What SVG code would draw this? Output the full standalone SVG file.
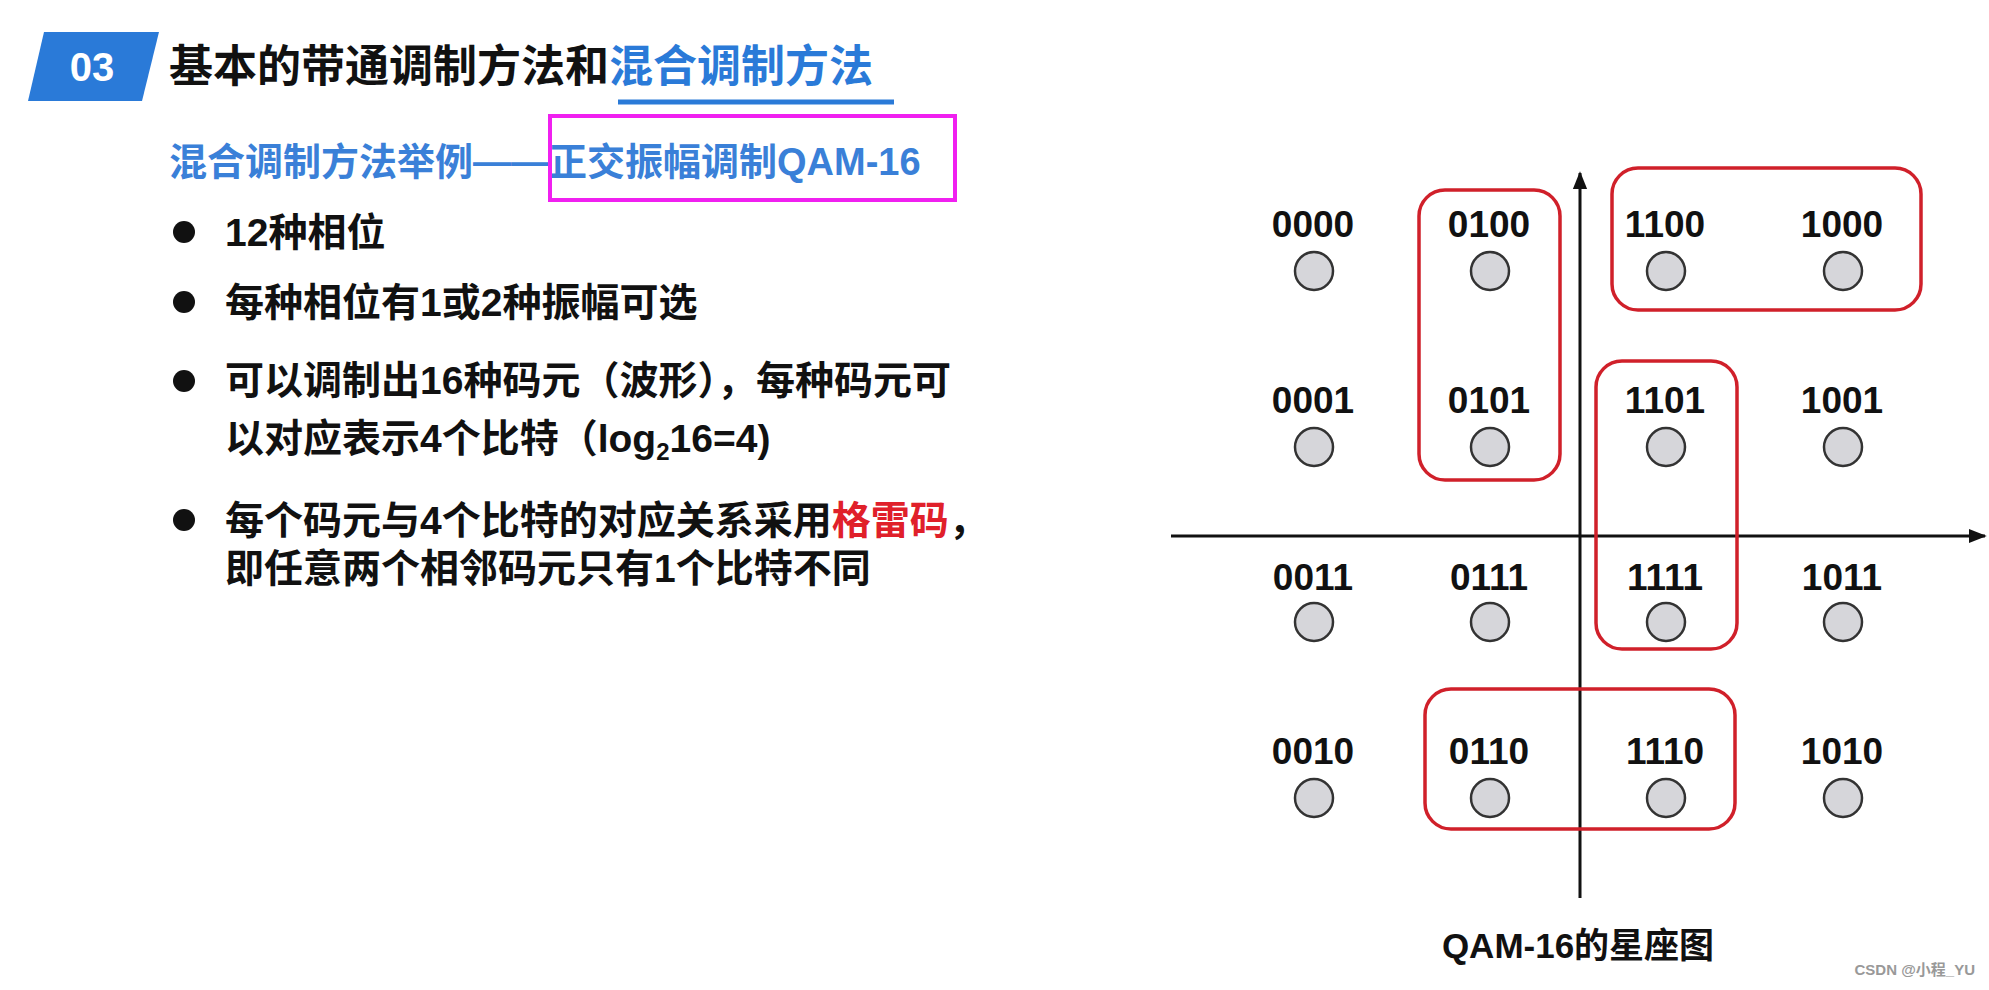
<svg xmlns="http://www.w3.org/2000/svg" width="1989" height="990" viewBox="0 0 1989 990">
<style>
text{font-family:"Liberation Sans","Noto Sans CJK SC",sans-serif;font-weight:bold}
.b{fill:#111;font-size:39px}
.lbl{fill:#111;font-size:37px;text-anchor:middle}
.pt{fill:#d6d6da;stroke:#333;stroke-width:2.5}
.rb{fill:none;stroke:#d0202a;stroke-width:3.5}
.ax{stroke:#111;stroke-width:3;fill:none}
</style>
<defs><marker id="ar" viewBox="0 0 10 10" refX="9" refY="5" markerWidth="6" markerHeight="6" orient="auto"><path d="M0,1 L10,5 L0,9 z" fill="#111"/></marker></defs>
<rect width="1989" height="990" fill="#fff"/>
<g id="header">
<polygon points="44,32 159,32 142,101 28,101" fill="#2a7ad8"/>
<text x="92" y="81" fill="#fff" font-size="40" text-anchor="middle">03</text>
<text x="169" y="82" font-size="44" fill="#111">基本的带通调制方法和<tspan fill="#2a7ad8">混合调制方法</tspan></text>
<line x1="618" y1="102" x2="894" y2="102" stroke="#2a7ad8" stroke-width="5"/>
<text x="169" y="175" font-size="38" fill="#3a80d8">混合调制方法举例——正交振幅调制QAM-16</text>
<rect x="550" y="116" width="405" height="84" fill="none" stroke="#f020f0" stroke-width="4"/>
</g>
<g id="bullets">
<circle cx="184" cy="232" r="11" fill="#111"/>
<text class="b" x="225" y="246">12种相位</text>
<circle cx="184" cy="302" r="11" fill="#111"/>
<text class="b" x="225" y="316">每种相位有1或2种振幅可选</text>
<circle cx="184" cy="381" r="11" fill="#111"/>
<text class="b" x="225" y="394">可以调制出16种码元（波形），每种码元可</text>
<text class="b" x="225" y="452">以对应表示4个比特（log<tspan font-size="24" dy="8">2</tspan><tspan dy="-8">16=4)</tspan></text>
<circle cx="184" cy="520" r="11" fill="#111"/>
<text class="b" x="225" y="534">每个码元与4个比特的对应关系采用<tspan fill="#e0202a">格雷码</tspan>，</text>
<text class="b" x="225" y="582">即任意两个相邻码元只有1个比特不同</text>
</g>
<g id="connectors">
<line class="ax" x1="1580" y1="898" x2="1580" y2="173" marker-end="url(#ar)"/>
<line class="ax" x1="1171" y1="536" x2="1985" y2="536" marker-end="url(#ar)"/>
</g>
<g id="groups">
<rect class="rb" x="1419" y="190" width="141" height="290" rx="26"/>
<rect class="rb" x="1612" y="168" width="309" height="142" rx="26"/>
<rect class="rb" x="1596" y="361" width="141" height="288" rx="26"/>
<rect class="rb" x="1425" y="689" width="310" height="140" rx="26"/>
</g>
<g id="points">
<g id="p0000"><text class="lbl" x="1313" y="237">0000</text><circle class="pt" cx="1314" cy="271" r="19"/></g>
<g id="p0100"><text class="lbl" x="1489" y="237">0100</text><circle class="pt" cx="1490" cy="271" r="19"/></g>
<g id="p1100"><text class="lbl" x="1665" y="237">1100</text><circle class="pt" cx="1666" cy="271" r="19"/></g>
<g id="p1000"><text class="lbl" x="1842" y="237">1000</text><circle class="pt" cx="1843" cy="271" r="19"/></g>
<g id="p0001"><text class="lbl" x="1313" y="413">0001</text><circle class="pt" cx="1314" cy="447" r="19"/></g>
<g id="p0101"><text class="lbl" x="1489" y="413">0101</text><circle class="pt" cx="1490" cy="447" r="19"/></g>
<g id="p1101"><text class="lbl" x="1665" y="413">1101</text><circle class="pt" cx="1666" cy="447" r="19"/></g>
<g id="p1001"><text class="lbl" x="1842" y="413">1001</text><circle class="pt" cx="1843" cy="447" r="19"/></g>
<g id="p0011"><text class="lbl" x="1313" y="590">0011</text><circle class="pt" cx="1314" cy="622" r="19"/></g>
<g id="p0111"><text class="lbl" x="1489" y="590">0111</text><circle class="pt" cx="1490" cy="622" r="19"/></g>
<g id="p1111"><text class="lbl" x="1665" y="590">1111</text><circle class="pt" cx="1666" cy="622" r="19"/></g>
<g id="p1011"><text class="lbl" x="1842" y="590">1011</text><circle class="pt" cx="1843" cy="622" r="19"/></g>
<g id="p0010"><text class="lbl" x="1313" y="764">0010</text><circle class="pt" cx="1314" cy="798" r="19"/></g>
<g id="p0110"><text class="lbl" x="1489" y="764">0110</text><circle class="pt" cx="1490" cy="798" r="19"/></g>
<g id="p1110"><text class="lbl" x="1665" y="764">1110</text><circle class="pt" cx="1666" cy="798" r="19"/></g>
<g id="p1010"><text class="lbl" x="1842" y="764">1010</text><circle class="pt" cx="1843" cy="798" r="19"/></g>
</g>
<text x="1578" y="958" font-size="35" fill="#111" text-anchor="middle">QAM-16的星座图</text>
<text x="1975" y="975" font-size="15" fill="#999" font-weight="normal" text-anchor="end">CSDN @小程_YU</text>
</svg>
